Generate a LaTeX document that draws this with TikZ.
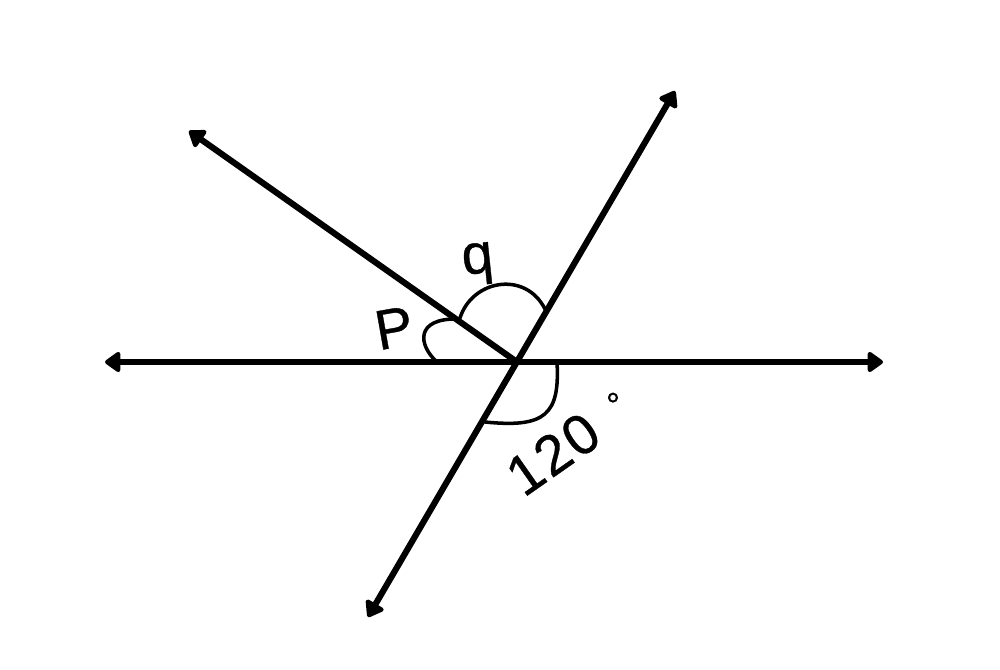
\documentclass[tikz,border=0pt]{standalone}
\usepackage{fontspec}
\setmainfont{Liberation Sans}
\newfontfamily\lblfont[FakeBold=0.6]{Liberation Sans}
\usetikzlibrary{arrows.meta}
\begin{document}
\begin{tikzpicture}[x=0.01cm,y=-0.01cm,
  lineaxis/.style={line width=1.75pt,{Triangle[length=1.7mm,width=2.3mm,round]}-{Triangle[length=1.7mm,width=2.3mm,round]}},
  rayone/.style={line width=1.75pt,-{Triangle[length=1.7mm,width=2.3mm,round]}},
  anglemark/.style={line width=1pt,line cap=round},
  lbl/.style={inner sep=0pt,font=\lblfont\fontsize{16}{18}\selectfont}]
\useasboundingbox (0,0) rectangle (1000,670);
\coordinate (O) at (517,362);
\coordinate (L) at (105,362);
\coordinate (R) at (883,362);
\coordinate (UR) at (675,91);
\coordinate (DL) at (368,617);
\coordinate (UL) at (189,131);
\draw[lineaxis] (L) -- (R);
\draw[lineaxis] (DL) -- (UR);
\draw[rayone] (O) -- (UL);
% angle marks
\coordinate (p1) at (458,319);
\coordinate (p2) at (437,362);
\coordinate (q1) at (460,318);
\coordinate (q2) at (545,309);
\coordinate (a1) at (557,362);
\coordinate (a2) at (485,422);
\draw[anglemark] (p1) .. controls (415,318) and (418,345) .. (p2);
\draw[anglemark] (q1) .. controls (472,280) and (525,270) .. (q2);
\draw[anglemark] (a1) .. controls (560,415) and (545,428) .. (a2);
\node[lbl,rotate=10] (p) at (394,328) {P};
\node[lbl,rotate=6] (q) at (478,264) {q};
\node[lbl,rotate=35] (t) at (553,454) {\addfontfeature{LetterSpace=4}120};
\node[inner sep=0pt,font=\lblfont\fontsize{10}{11}\selectfont,anchor=north] (deg) at (613,392) {°};
\end{tikzpicture}
\end{document}
